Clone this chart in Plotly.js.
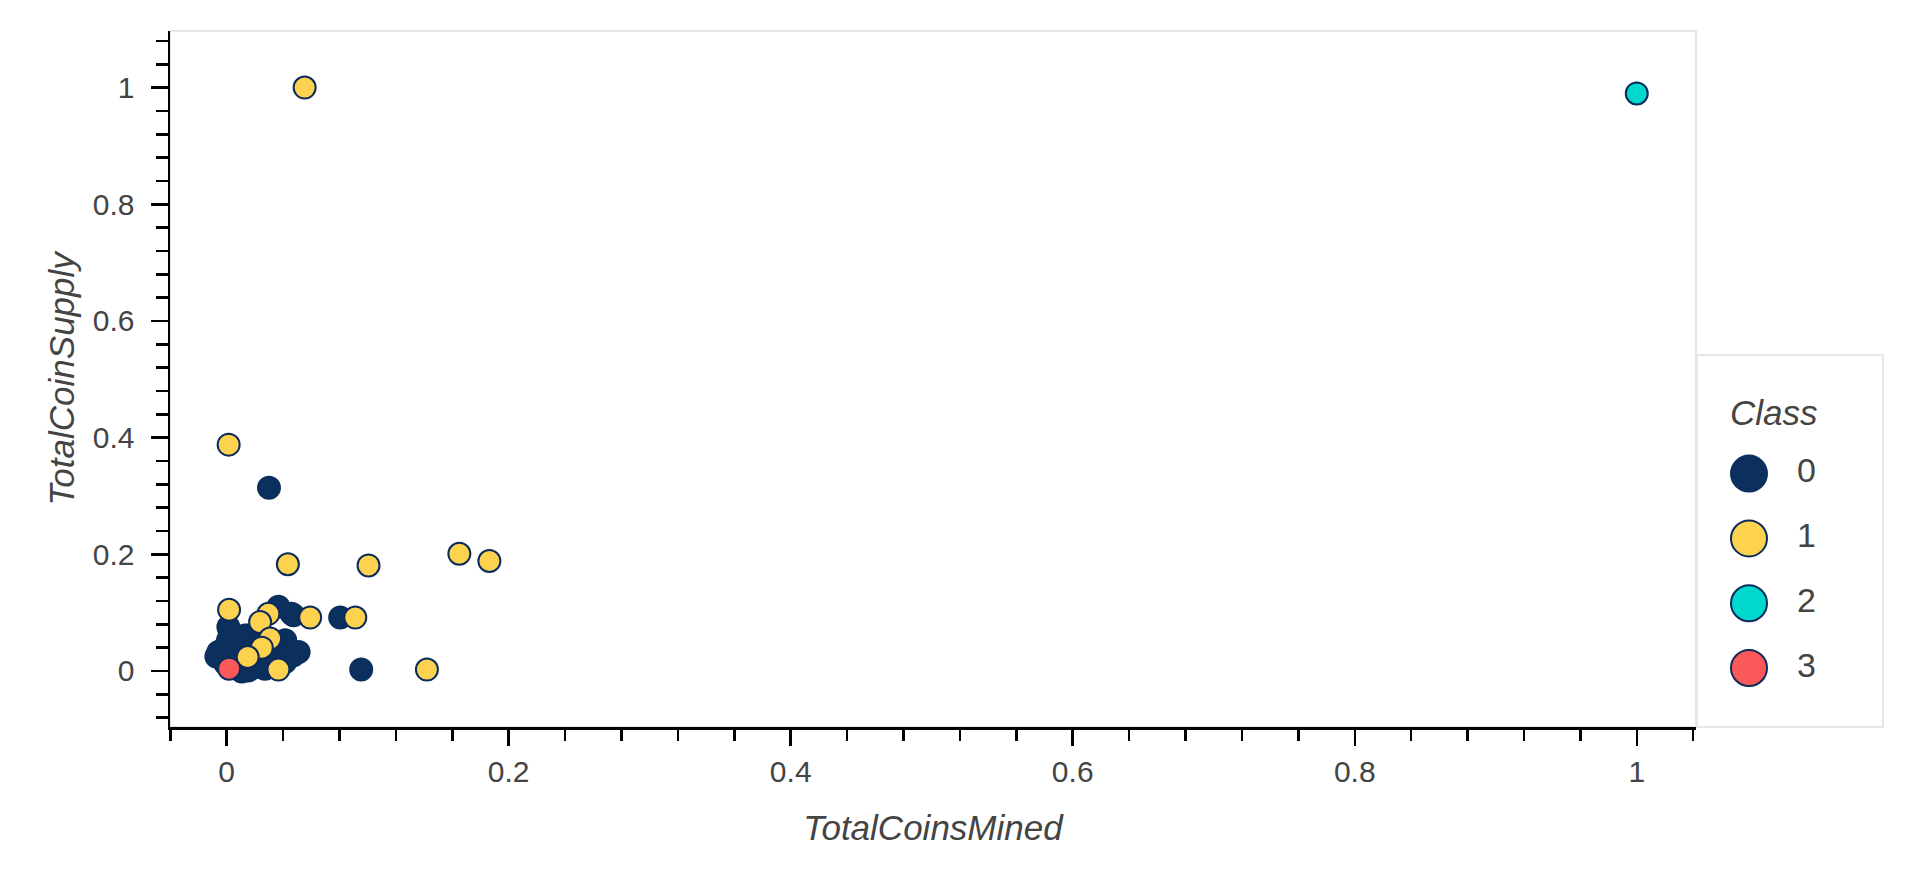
<!DOCTYPE html>
<html>
<head>
<meta charset="utf-8">
<script src="https://cdn.plot.ly/plotly-3.0.1.min.js"></script>
<style>
  body { margin: 0; background: #fff; }
  #plot { width: 1920px; height: 877px; }
</style>
</head>
<body>
<div id="plot"></div>
<script>
// class labels and colours
var classes = ['0', '1', '2', '3'];
var classColors = ['#0b305e', '#fdd24f', '#00d7cd', '#fb5959'];
var edgeColor = '#0b2b5a';

// points, one pair of arrays per class
var class0X = [0.0012, 0.001, 0.0071, 0.0154, 0.013, -0.0059, -0.0073, -0.001, 0.006, -0.001,
               0.0107, 0.0154, 0.0225, 0.0272, 0.034, 0.0415, 0.0415, 0.0415, 0.046, 0.0474,
               0.051, 0.0367, 0.0474, 0.046, 0.0805, 0.0954, 0.030, 0.022, 0.030, 0.020,
               0.0225, 0.030, 0.035];
var class0Y = [0.0754, 0.053, 0.047, 0.061, 0.061, 0.0326, 0.025, 0.041, 0.0127, 0.0127,
               -0.001, 0.001, 0.0069, 0.004, 0.018, 0.0154, 0.047, 0.0526, 0.030, 0.027,
               0.0326, 0.110, 0.0955, 0.098, 0.0915, 0.0024, 0.314, 0.030, 0.035, 0.045,
               0.0127, 0.025, 0.040];

var class1X = [0.0553, 0.0014, 0.0434, 0.1006, 0.165, 0.1863, 0.0017, 0.0296, 0.0237, 0.0592,
               0.0912, 0.0308, 0.0249, 0.0149, 0.0367, 0.142];
var class1Y = [1.0, 0.388, 0.183, 0.181, 0.201, 0.1886, 0.105, 0.098, 0.084, 0.0915,
               0.0915, 0.0555, 0.040, 0.024, 0.0024, 0.0024];

var class2X = [1.0];
var class2Y = [0.99];

var class3X = [0.0017];
var class3Y = [0.004];

var xsByClass = [class0X, class1X, class2X, class3X];
var ysByClass = [class0Y, class1Y, class2Y, class3Y];

var font = '"Liberation Sans", Arial, Helvetica, sans-serif';

var traces = classes.map(function (c, i) {
  return {
    x: xsByClass[i],
    y: ysByClass[i],
    mode: 'markers',
    type: 'scatter',
    name: c,
    showlegend: false,
    marker: {
      size: 22,
      color: classColors[i],
      line: { color: i === 0 ? classColors[0] : edgeColor, width: 2 }
    },
    xaxis: 'x',
    yaxis: 'y'
  };
});

// legend drawn on its own small axes so the symbols can be big
traces.push({
  x: classes.map(function () { return 0; }),
  y: classes.map(function (c, i) { return i; }),
  mode: 'markers',
  type: 'scatter',
  showlegend: false,
  hoverinfo: 'skip',
  marker: {
    size: 36,
    color: classColors,
    line: { color: classes.map(function (c, i) { return i === 0 ? classColors[0] : edgeColor; }), width: 2 }
  },
  xaxis: 'x2',
  yaxis: 'y2'
});
traces.push({
  x: classes.map(function () { return 48; }),
  y: classes.map(function (c, i) { return i; }),
  text: classes,
  mode: 'text',
  type: 'scatter',
  showlegend: false,
  hoverinfo: 'skip',
  textposition: 'middle right',
  textfont: { family: font, size: 34, color: '#444' },
  xaxis: 'x2',
  yaxis: 'y2'
});

var tickFont = { family: font, size: 30, color: '#444' };
var titleFont = { family: font, size: 35, color: '#444', style: 'italic' };

var layout = {
  width: 1920,
  height: 877,
  margin: { l: 170, r: 30, t: 31, b: 150 },
  paper_bgcolor: '#fff',
  plot_bgcolor: '#fff',
  font: { family: font, color: '#444' },
  xaxis: {
    domain: [0, 0.8872],
    range: [-0.0402, 1.042],
    anchor: 'y',
    showgrid: false,
    zeroline: false,
    showline: true,
    linecolor: '#000',
    linewidth: 2.5,
    ticks: 'outside',
    ticklen: 16,
    tickwidth: 2.5,
    tickcolor: '#000',
    tick0: 0,
    dtick: 0.2,
    tickfont: tickFont,
    minor: { dtick: 0.04, tick0: 0, ticks: 'outside', ticklen: 11, tickwidth: 2.5, tickcolor: '#000', showgrid: false },
    title: { text: 'TotalCoinsMined', font: titleFont, standoff: 29 }
  },
  yaxis: {
    domain: [0, 1],
    range: [-0.096, 1.097],
    anchor: 'x',
    showgrid: false,
    zeroline: false,
    showline: true,
    linecolor: '#000',
    linewidth: 2.5,
    ticks: 'outside',
    ticklen: 17,
    tickwidth: 2.5,
    tickcolor: '#000',
    tick0: 0,
    dtick: 0.2,
    tickfont: tickFont,
    ticklabelstandoff: 10,
    minor: { dtick: 0.04, tick0: 0, ticks: 'outside', ticklen: 12, tickwidth: 2.5, tickcolor: '#000', showgrid: false },
    title: { text: 'TotalCoinSupply', font: titleFont, standoff: 8 }
  },
  xaxis2: {
    domain: [0.8878, 0.9959],
    range: [-52, 134],
    anchor: 'y2',
    visible: false,
    fixedrange: true
  },
  yaxis2: {
    domain: [0, 0.5345],
    range: [3.91, -1.83],
    anchor: 'x2',
    visible: false,
    fixedrange: true
  },
  shapes: [
    {
      type: 'rect', xref: 'x domain', yref: 'y domain',
      x0: 0, x1: 1, y0: 0, y1: 1,
      line: { color: '#e6e6e6', width: 2 },
      layer: 'below'
    },
    {
      type: 'rect', xref: 'x2 domain', yref: 'y2 domain',
      x0: 0, x1: 1, y0: 0, y1: 1,
      line: { color: '#e6e6e6', width: 2 },
      fillcolor: '#fff',
      layer: 'below'
    }
  ],
  annotations: [
    {
      text: 'Class',
      xref: 'x2', yref: 'y2',
      x: -21, y: -0.94,
      xanchor: 'left', yanchor: 'middle',
      showarrow: false,
      font: titleFont
    }
  ]
};

Plotly.newPlot('plot', traces, layout, { displayModeBar: false, staticPlot: true });
</script>
</body>
</html>
